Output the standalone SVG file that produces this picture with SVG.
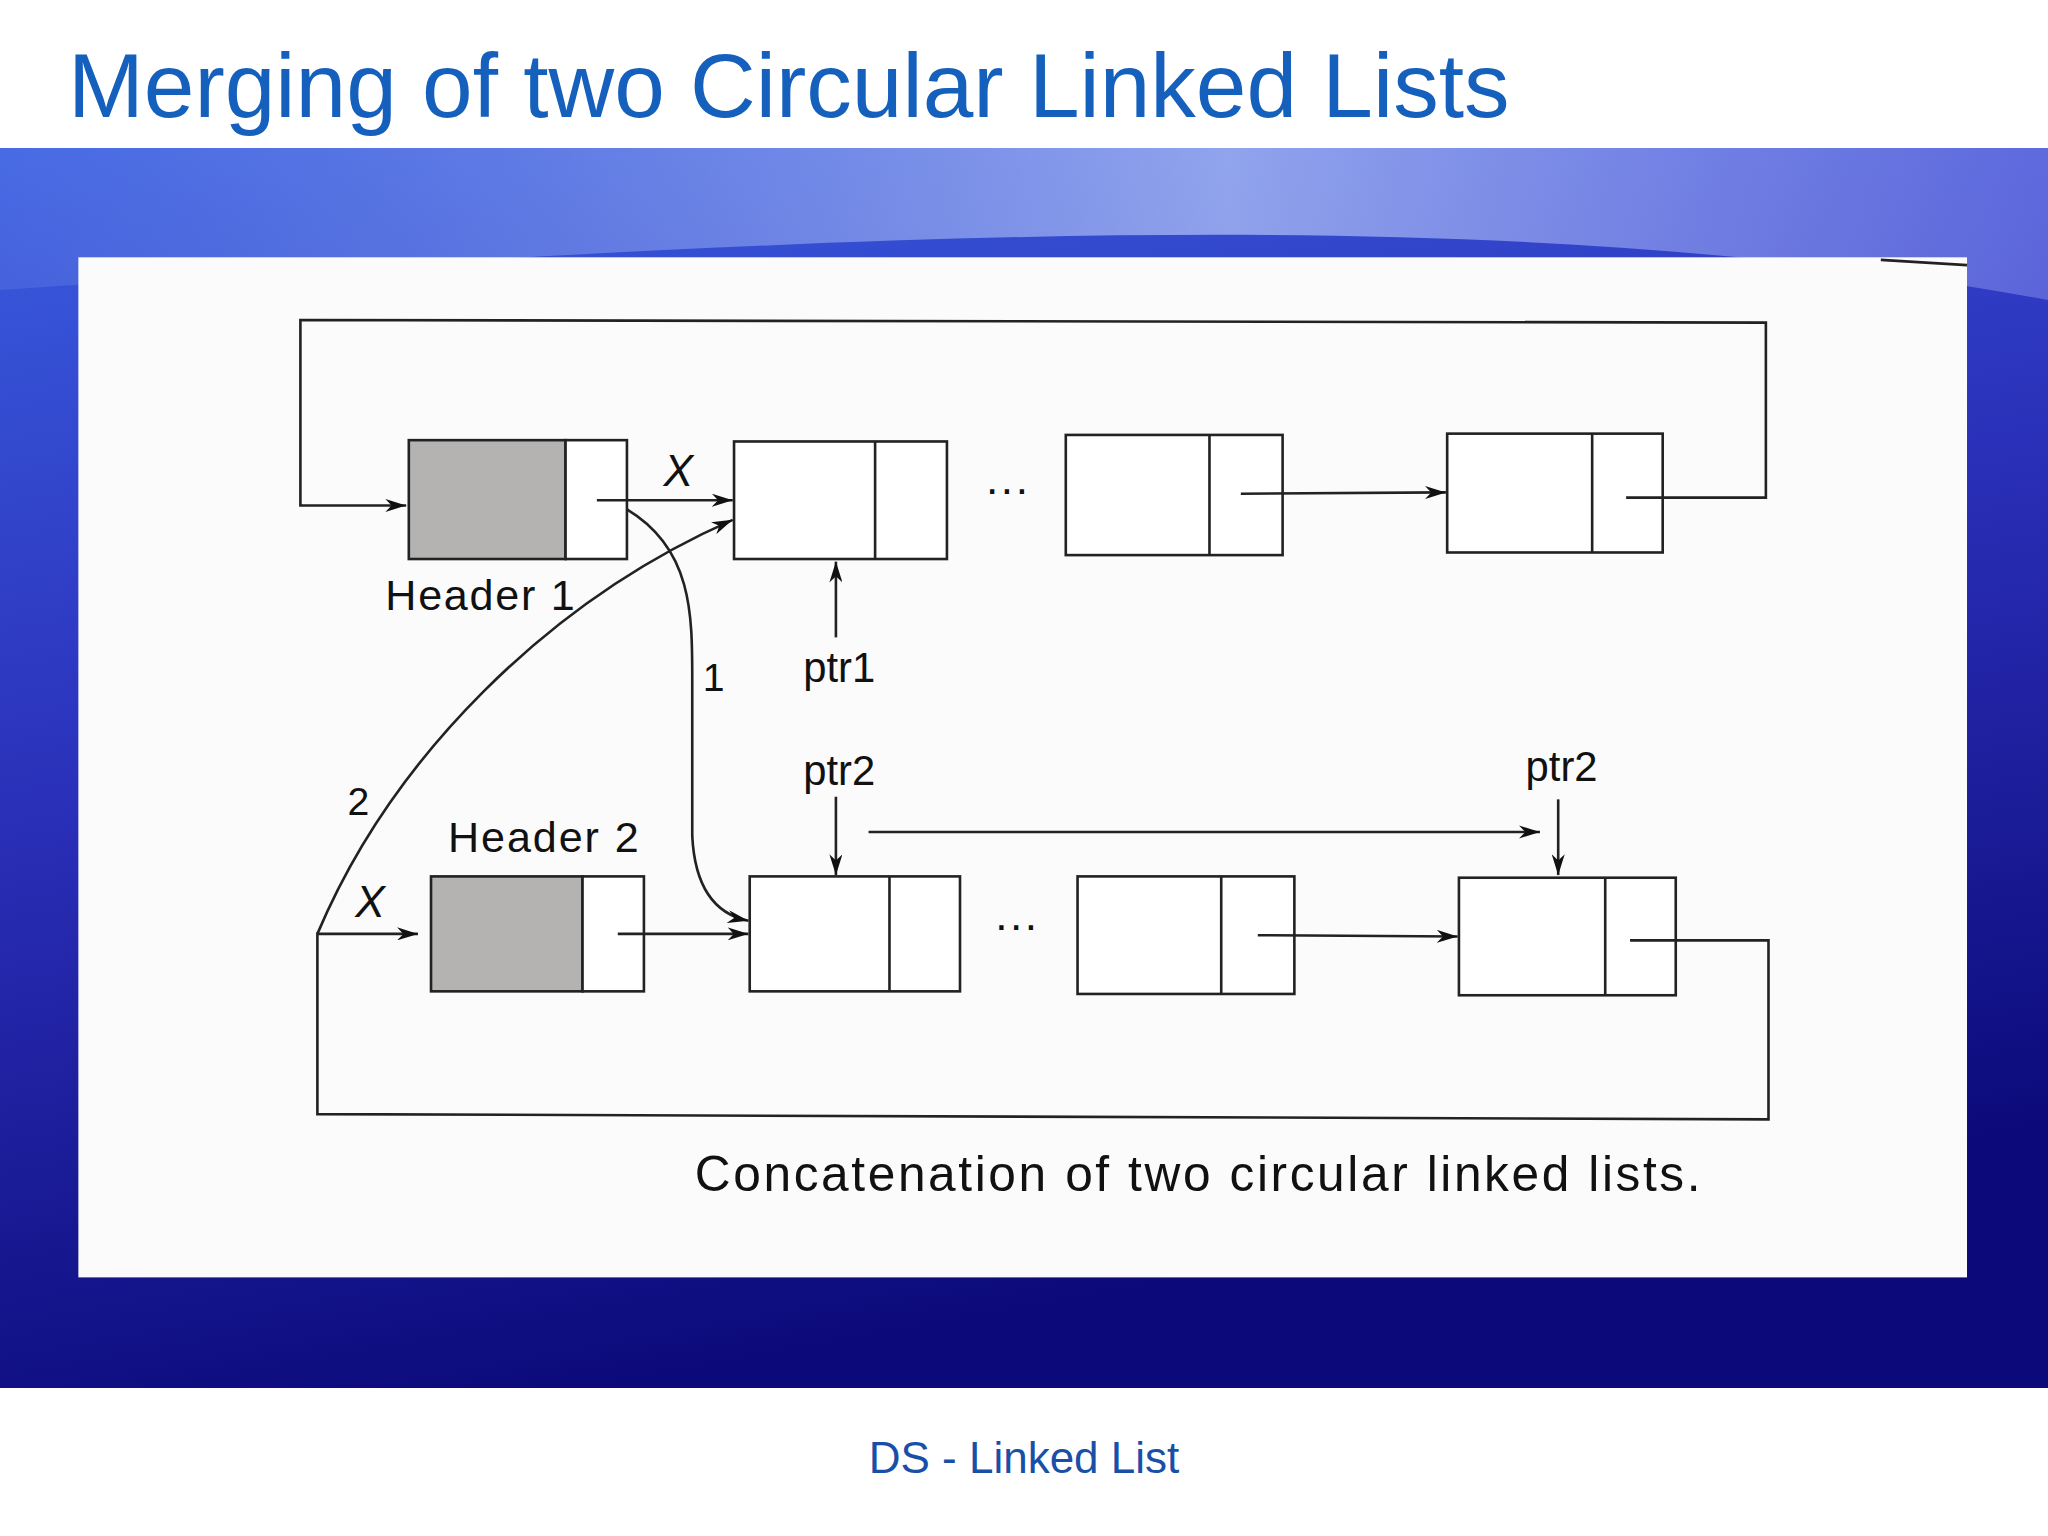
<svg xmlns="http://www.w3.org/2000/svg" width="2048" height="1536" viewBox="0 0 2048 1536">
<defs>
<linearGradient id="bg" x1="0" y1="0" x2="0.3" y2="1">
<stop offset="0" stop-color="#3a5ee0"/><stop offset="0.5" stop-color="#2a2fb8"/><stop offset="1" stop-color="#0c0a7a"/>
</linearGradient>
<linearGradient id="sheen" x1="0" y1="0" x2="1" y2="0">
<stop offset="0" stop-color="#7f9cf0" stop-opacity="0.2"/><stop offset="0.6" stop-color="#b8c8f8" stop-opacity="0.7"/><stop offset="1" stop-color="#8a90f0" stop-opacity="0.5"/>
</linearGradient>
<marker id="ar" viewBox="0 0 10 10" refX="10" refY="5" markerWidth="16" markerHeight="10" markerUnits="userSpaceOnUse" orient="auto-start-reverse" preserveAspectRatio="none">
<path d="M0,0 L10,5 L0,10 L3,5 z" fill="#111"/>
</marker>
<style>
.n{fill:#fff;stroke:#222;stroke-width:2}
.g{fill:#b5b2b2;stroke:#222;stroke-width:2}
.c{fill:none;stroke:#222;stroke-width:2}
.t{font-family:"Liberation Sans",Arial,sans-serif;fill:#111}
</style>
</defs>
<rect width="2048" height="1536" fill="#fff"/>
<rect x="0" y="148" width="2048" height="1240" fill="url(#bg)"/>
<path d="M0,148 L2048,148 L2048,300 C1500,200 900,230 0,290 z" fill="url(#sheen)"/>
<text x="68" y="117" class="t" style="fill:#1560bd;font-size:91px">Merging of two Circular Linked Lists</text>
<text x="1024" y="1473" class="t" text-anchor="middle" style="fill:#1a4fa8;font-size:44px">DS - Linked List</text>
<g transform="scale(1.30612)">
<rect x="60" y="197" width="1446" height="781" fill="#fbfbfb"/>
<path d="M1440,199 L1506,203" stroke="#222" stroke-width="2"/>
<g id="header1"><rect x="313" y="337" width="120" height="91" class="g"/><rect x="433" y="337" width="47" height="91" class="n"/><text x="295" y="467" class="t" font-size="33" textLength="145">Header 1</text></g>
<g id="nodeA"><rect x="562" y="338" width="163" height="90" class="n"/><line x1="670" y1="338" x2="670" y2="428" class="c"/></g>
<g id="nodeB"><rect x="816" y="333" width="166" height="92" class="n"/><line x1="926" y1="333" x2="926" y2="425" class="c"/></g>
<g id="nodeC"><rect x="1108" y="332" width="165" height="91" class="n"/><line x1="1219" y1="332" x2="1219" y2="423" class="c"/></g>
<g id="header2"><rect x="330" y="671" width="116" height="88" class="g"/><rect x="446" y="671" width="47" height="88" class="n"/><text x="343" y="652" class="t" font-size="33" textLength="146">Header 2</text></g>
<g id="nodeD"><rect x="574" y="671" width="161" height="88" class="n"/><line x1="681" y1="671" x2="681" y2="759" class="c"/></g>
<g id="nodeE"><rect x="825" y="671" width="166" height="90" class="n"/><line x1="935" y1="671" x2="935" y2="761" class="c"/></g>
<g id="nodeF"><rect x="1117" y="672" width="166" height="90" class="n"/><line x1="1229" y1="672" x2="1229" y2="762" class="c"/></g>
<g id="connectors">
<path d="M1245,381 L1352,381 L1352,247 L230,245 L230,387 L311,387" class="c" marker-end="url(#ar)"/>
<path d="M457,383 L561,383" class="c" marker-end="url(#ar)"/>
<path d="M480,390 C530,420 530,470 530,520 L530,640 C532,680 548,700 573,705" class="c" marker-end="url(#ar)"/>
<path d="M243,715 C300,580 420,460 561,398" class="c" marker-end="url(#ar)"/>
<path d="M1248,720 L1354,720 L1354,857 L243,853 L243,715 L320,715" class="c" marker-end="url(#ar)"/>
<path d="M473,715 L573,715" class="c" marker-end="url(#ar)"/>
<path d="M950,378 L1107,377" class="c" marker-end="url(#ar)"/>
<path d="M963,716 L1116,717" class="c" marker-end="url(#ar)"/>
<path d="M640,488 L640,430" class="c" marker-end="url(#ar)"/>
<path d="M640,610 L640,670" class="c" marker-end="url(#ar)"/>
<path d="M1193,612 L1193,670" class="c" marker-end="url(#ar)"/>
<path d="M665,637 L1179,637" class="c" marker-end="url(#ar)"/>
</g>
<text x="508" y="372" class="t" font-size="34" font-style="italic">X</text>
<text x="272" y="702" class="t" font-size="34" font-style="italic">X</text>
<text x="771" y="386" class="t" font-size="34" text-anchor="middle">···</text>
<text x="778" y="720" class="t" font-size="34" text-anchor="middle">···</text>
<text x="538" y="529" class="t" font-size="30">1</text>
<text x="266" y="624" class="t" font-size="30">2</text>
<text x="615" y="522" class="t" font-size="32">ptr1</text>
<text x="615" y="601" class="t" font-size="32">ptr2</text>
<text x="1168" y="598" class="t" font-size="32">ptr2</text>
<text x="532" y="912" class="t" font-size="38" textLength="770">Concatenation of two circular linked lists.</text>
</g>
</svg>
